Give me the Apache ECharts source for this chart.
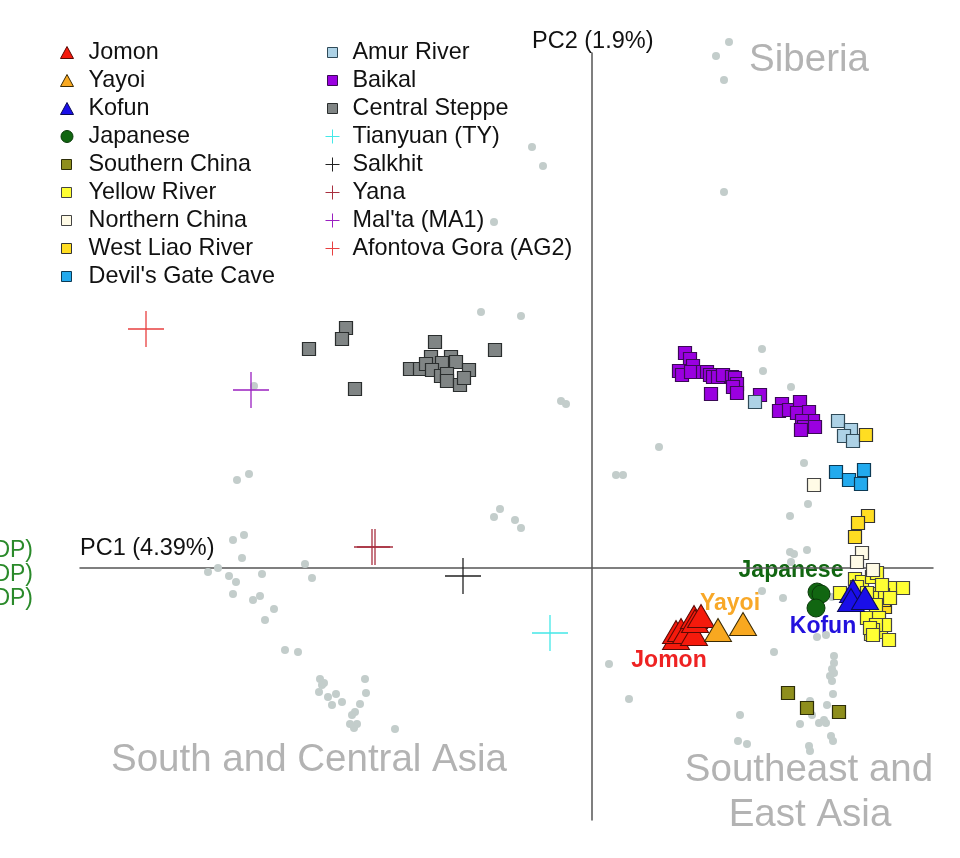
<!DOCTYPE html>
<html>
<head>
<meta charset="utf-8">
<style>html,body{margin:0;padding:0;background:#fff}#c{width:960px;height:858px}</style>
<script src="https://cdn.jsdelivr.net/npm/echarts@6/dist/echarts.min.js"></script>
</head>
<body>
<div id="c"></div>
<script>
// Values as [PC1, PC2] in arbitrary plot units
const modernSamples = [[124,512],[137,526],[132,488],[132,376],[-60,421],[-49,402],[-98,346],[-111,256],[-71,252],[-338,182],[-31,167],[-26,164],[170,219],[171,197],[199,181],[67,121],[24,93],[31,93],[212,105],[216,64],[198,52],[198,16],[202,14],[215,18],[199,6],[170,-23],[191,-30],[225,-69],[234,-67],[182,-84],[17,-96],[37,-131],[242,-88],[242,-95],[240,-101],[242,-105],[238,-108],[240,-113],[241,-126],[218,-133],[235,-137],[220,-147],[148,-147],[208,-156],[227,-155],[232,-152],[234,-155],[239,-168],[241,-173],[146,-173],[155,-176],[217,-178],[218,-183],[240,-29],[-98,51],[-92,59],[-77,48],[-71,40],[-359,28],[-348,33],[-350,10],[-374,0],[-384,-4],[-363,-8],[-356,-14],[-330,-6],[-359,-26],[-339,-32],[-332,-28],[-318,-41],[-327,-52],[-307,-82],[-294,-84],[-287,4],[-280,-10],[-272,-111],[-268,-115],[-270,-117],[-273,-124],[-264,-129],[-256,-126],[-260,-137],[-250,-134],[-227,-111],[-226,-125],[-232,-136],[-237,-144],[-240,-147],[-242,-156],[-235,-156],[-238,-160],[-197,-161],[-355,88],[-343,94]];
const jomon = [[84,-70],[84,-64],[89,-62],[94,-64],[102,-66],[102,-49],[103,-53],[109,-48]];
const yayoi = [[126,-62],[151,-56]];
const kofun = [[261,-23],[259,-32],[273,-30]];
const japanese = [[225,-24],[229,-26],[224,-40]];
const southernChina = [[196,-125],[215,-140],[247,-144]];
const yellowRiver = [[248,-25],[263,-11],[270,-14],[280,-9],[285,-5],[299,-20],[311,-20],[286,-26],[291,-27],[298,-30],[279,-66],[289,-64],[276,-35],[280,-30],[290,-17],[275,-50],[287,-50],[293,-57],[284,-57],[281,-62],[278,-60],[297,-72],[281,-67],[265,-19],[275,-25],[284,-37]];
const northernChina = [[222,83],[270,15],[265,6],[281,-2]];
const westLiaoRiver = [[274,133],[276,52],[266,45],[263,31],[293,-39],[292,-32]];
const devilsGateCave = [[244,96],[257,88],[269,84],[272,98]];
const amurRiver = [[163,166],[246,147],[259,138],[252,132],[261,127]];
const baikal = [[93,215],[98,209],[101,202],[87,197],[90,193],[99,196],[111,196],[115,196],[118,193],[121,191],[126,191],[131,193],[140,191],[143,190],[145,184],[141,181],[145,175],[119,174],[168,173],[190,164],[187,157],[197,158],[208,166],[205,155],[217,156],[221,147],[210,147],[212,141],[209,138],[223,141]];
const centralSteppe = [[-246,240],[-250,229],[-283,219],[-237,179],[-157,226],[-97,218],[-182,199],[-172,199],[-161,211],[-166,204],[-141,211],[-150,205],[-136,206],[-123,198],[-160,198],[-151,192],[-145,194],[-145,187],[-132,183],[-128,190]];
const tianyuan = [[-42,-65]];
const salkhit = [[-129,-8]];
const yana = [[-220,21],[-217,21]];
const malta = [[-341,178]];
const afontovaGora = [[-446,239]];

const PLUS = 'path://M0 10H20M10 0V20';
const FONT = '"Liberation Sans", Arial, sans-serif';

function mark(name, data, symbol, size, color, border, bw) {
  return {
    name, type: 'scatter', data, symbol, symbolSize: size, animation: false, clip: false,
    itemStyle: { color, borderColor: border, borderWidth: bw, opacity: 1 },
    emphasis: { disabled: true }
  };
}
const TRI = [27, 23], SQ = 13, CROSS = 36;
const series = [
  mark('modern', modernSamples, 'circle', 8, '#c3cdcb', '#c3cdcb', 0),
  mark('Central Steppe', centralSteppe, 'rect', SQ, '#808585', '#2a2e2e', 1.2),
  mark('Baikal', baikal, 'rect', SQ, '#9a00e0', '#3a0a55', 1.2),
  mark('Amur River', amurRiver, 'rect', SQ, '#add2e6', '#2f4a58', 1.2),
  mark("Devil's Gate Cave", devilsGateCave, 'rect', SQ, '#22aaee', '#0c3a55', 1.2),
  mark('Southern China', southernChina, 'rect', SQ, '#8e8e1c', '#2d2d08', 1.2),
  mark('West Liao River', westLiaoRiver, 'rect', SQ, '#ffdd22', '#333', 1.2),
  mark('Yellow River', yellowRiver, 'rect', SQ, '#ffff33', '#444', 1.2),
  mark('Northern China', northernChina, 'rect', SQ, '#fffbe6', '#444', 1.2),
  mark('Japanese', japanese, 'circle', 18, '#116611', '#0a3a0a', 1),
  mark('Jomon', jomon, 'triangle', TRI, '#f51a0c', '#5a0a05', 1),
  mark('Yayoi', yayoi, 'triangle', TRI, '#f8a820', '#3a2a05', 1),
  mark('Kofun', kofun, 'triangle', TRI, '#1a0fe8', '#0a0a55', 1),
  mark('Tianyuan (TY)', tianyuan, PLUS, CROSS, 'transparent', '#44e8e8', 1.3),
  mark('Salkhit', salkhit, PLUS, CROSS, 'transparent', '#222222', 1.3),
  mark('Yana', yana, PLUS, CROSS, 'transparent', '#a83040', 1.3),
  mark("Mal'ta (MA1)", malta, PLUS, CROSS, 'transparent', '#9a20c0', 1.3),
  mark('Afontova Gora (AG2)', afontovaGora, PLUS, CROSS, 'transparent', '#e84040', 1.3)
];

function legend(names, left, top, w, h, pad) {
  return {
    data: names,
    orient: 'vertical', left, top, itemWidth: w, itemHeight: h, itemGap: 5,
    selectedMode: false, padding: 0,
    itemStyle: { borderWidth: 1 },
    textStyle: { fontFamily: FONT, fontSize: 23.4, color: '#111', padding: [0, 0, 0, pad] }
  };
}
function txt(text, x, y, size, color, weight, align) {
  return { type: 'text', x, y, silent: true, style: {
    text, fill: color, font: (weight || 'normal') + ' ' + size + 'px ' + FONT,
    textAlign: align || 'center', textVerticalAlign: 'middle' } };
}

const chart = echarts.init(document.getElementById('c'), null, { renderer: 'canvas' });
chart.setOption({
  backgroundColor: '#fff',
  animation: false,
  grid: { left: 80, right: 27, top: 53, bottom: 38 },
  xAxis: { type: 'value', min: -512, max: 341, splitLine: { show: false }, axisTick: { show: false }, axisLabel: { show: false },
    axisLine: { show: true, onZero: true, lineStyle: { color: '#555', width: 1.5 } } },
  yAxis: { type: 'value', min: -252, max: 515, splitLine: { show: false }, axisTick: { show: false }, axisLabel: { show: false },
    axisLine: { show: true, onZero: true, lineStyle: { color: '#555', width: 1.5 } } },
  legend: [
    legend(['Jomon', 'Yayoi', 'Kofun', 'Japanese'], 60, 41, 13, 12, 10),
    legend(['Southern China', 'Yellow River', 'Northern China', 'West Liao River', "Devil's Gate Cave"], 61, 153, 10, 10, 12),
    legend(['Amur River', 'Baikal', 'Central Steppe'], 327, 41, 10, 10, 10),
    legend(['Tianyuan (TY)', 'Salkhit', 'Yana', "Mal'ta (MA1)", 'Afontova Gora (AG2)'], 325, 125, 14, 14, 8)
  ],
  series,
  graphic: [
    txt('PC1 (4.39%)', 80, 549, 23.5, '#111', 'normal', 'left'),
    txt('PC2 (1.9%)', 532, 42, 23.5, '#111', 'normal', 'left'),
    txt('Siberia', 809, 60, 38.5, '#b3b3b3'),
    txt('South and Central Asia', 309, 760, 38.5, '#b3b3b3'),
    txt('Southeast and', 809, 770, 38.5, '#b3b3b3'),
    txt('East Asia', 810, 815, 38.5, '#b3b3b3'),
    txt('Jomon', 669, 661, 23, '#ee2222', 'bold'),
    txt('Yayoi', 730, 604, 23, '#f8a828', 'bold'),
    txt('Kofun', 823, 627, 23, '#2211dd', 'bold'),
    txt('Japanese', 791, 571, 23, '#116611', 'bold'),
    txt('DP)', 33, 551, 23, '#2a8a2a', 'normal', 'right'),
    txt('DP)', 33, 575, 23, '#2a8a2a', 'normal', 'right'),
    txt('DP)', 33, 599, 23, '#2a8a2a', 'normal', 'right')
  ]
});
</script>
</body>
</html>
